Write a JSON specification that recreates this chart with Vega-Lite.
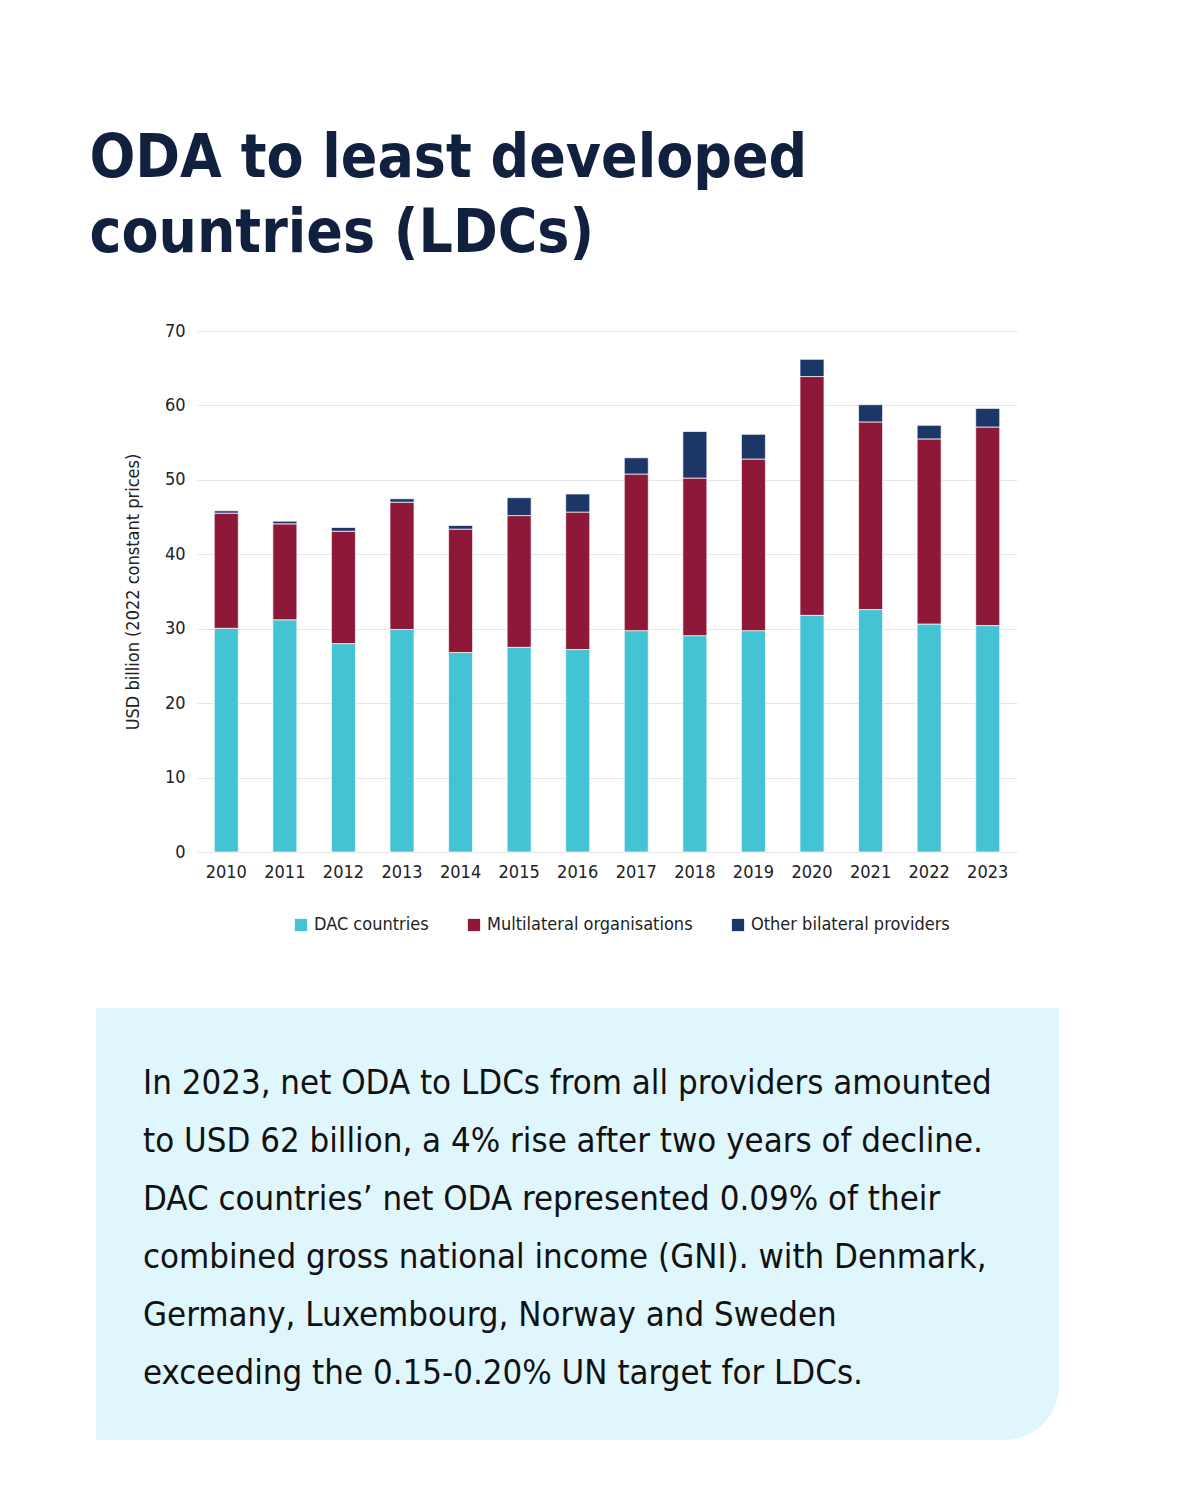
{
  "$schema": "https://vega.github.io/schema/vega-lite/v6.json",
  "background": "white",
  "padding": {"top": 129, "left": 89, "right": 10, "bottom": 10},
  "concat": [
    {
      "width": 820,
      "height": 521,
      "title": {
        "text": ["ODA to least developed", "countries (LDCs)"],
        "anchor": "start",
        "frame": "bounds",
        "dx": -35,
        "offset": 57,
        "fontSize": 60,
        "lineHeight": 75,
        "fontWeight": "bold",
        "font": "DejaVu Sans Condensed, Noto Sans",
        "color": "#12203f"
      },
      "data": {
        "values": [
          {"year": "2010", "provider": "DAC countries", "value": 30.05},
          {"year": "2010", "provider": "Multilateral organisations", "value": 15.48},
          {"year": "2010", "provider": "Other bilateral providers", "value": 0.31},
          {"year": "2011", "provider": "DAC countries", "value": 31.2},
          {"year": "2011", "provider": "Multilateral organisations", "value": 12.89},
          {"year": "2011", "provider": "Other bilateral providers", "value": 0.36},
          {"year": "2012", "provider": "DAC countries", "value": 28.0},
          {"year": "2012", "provider": "Multilateral organisations", "value": 15.1},
          {"year": "2012", "provider": "Other bilateral providers", "value": 0.5},
          {"year": "2013", "provider": "DAC countries", "value": 29.9},
          {"year": "2013", "provider": "Multilateral organisations", "value": 17.1},
          {"year": "2013", "provider": "Other bilateral providers", "value": 0.46},
          {"year": "2014", "provider": "DAC countries", "value": 26.8},
          {"year": "2014", "provider": "Multilateral organisations", "value": 16.58},
          {"year": "2014", "provider": "Other bilateral providers", "value": 0.49},
          {"year": "2015", "provider": "DAC countries", "value": 27.5},
          {"year": "2015", "provider": "Multilateral organisations", "value": 17.7},
          {"year": "2015", "provider": "Other bilateral providers", "value": 2.4},
          {"year": "2016", "provider": "DAC countries", "value": 27.2},
          {"year": "2016", "provider": "Multilateral organisations", "value": 18.47},
          {"year": "2016", "provider": "Other bilateral providers", "value": 2.43},
          {"year": "2017", "provider": "DAC countries", "value": 29.74},
          {"year": "2017", "provider": "Multilateral organisations", "value": 21.04},
          {"year": "2017", "provider": "Other bilateral providers", "value": 2.19},
          {"year": "2018", "provider": "DAC countries", "value": 29.07},
          {"year": "2018", "provider": "Multilateral organisations", "value": 21.17},
          {"year": "2018", "provider": "Other bilateral providers", "value": 6.26},
          {"year": "2019", "provider": "DAC countries", "value": 29.74},
          {"year": "2019", "provider": "Multilateral organisations", "value": 23.06},
          {"year": "2019", "provider": "Other bilateral providers", "value": 3.32},
          {"year": "2020", "provider": "DAC countries", "value": 31.8},
          {"year": "2020", "provider": "Multilateral organisations", "value": 32.08},
          {"year": "2020", "provider": "Other bilateral providers", "value": 2.32},
          {"year": "2021", "provider": "DAC countries", "value": 32.57},
          {"year": "2021", "provider": "Multilateral organisations", "value": 25.21},
          {"year": "2021", "provider": "Other bilateral providers", "value": 2.32},
          {"year": "2022", "provider": "DAC countries", "value": 30.63},
          {"year": "2022", "provider": "Multilateral organisations", "value": 24.87},
          {"year": "2022", "provider": "Other bilateral providers", "value": 1.83},
          {"year": "2023", "provider": "DAC countries", "value": 30.42},
          {"year": "2023", "provider": "Multilateral organisations", "value": 26.68},
          {"year": "2023", "provider": "Other bilateral providers", "value": 2.5}
        ]
      },
      "mark": {"type": "bar", "stroke": "white", "strokeWidth": 1, "strokeOpacity": 0.7},
      "encoding": {
        "x": {
          "field": "year",
          "type": "ordinal",
          "scale": {"paddingInner": 0.59, "paddingOuter": 0.295},
          "axis": {"title": null, "labelAngle": 0, "ticks": false, "domain": false, "labelPadding": 11}
        },
        "y": {
          "field": "value",
          "type": "quantitative",
          "stack": "zero",
          "scale": {"domain": [0, 70], "nice": false},
          "axis": {
            "title": "USD billion (2022 constant prices)",
            "values": [0, 10, 20, 30, 40, 50, 60, 70],
            "ticks": false,
            "domain": false,
            "labelPadding": 12,
            "titlePadding": 22
          }
        },
        "color": {
          "field": "provider",
          "type": "nominal",
          "scale": {
            "domain": ["DAC countries", "Multilateral organisations", "Other bilateral providers"],
            "range": ["#43c3d3", "#8e1838", "#1c3668"]
          },
          "legend": {
            "title": null,
            "orient": "none",
            "legendX": 95,
            "legendY": 585,
            "direction": "horizontal",
            "symbolType": "square",
            "symbolSize": 150,
            "symbolStrokeWidth": 0,
            "columnPadding": 36,
            "labelLimit": 400
          }
        },
        "order": {"field": "provider", "sort": "ascending"}
      }
    },
    {
      "width": 862,
      "height": 432,
      "layer": [
        {
          "data": {"values": [{"panel": "summary"}]},
          "mark": {"type": "rect", "color": "#dff7fc", "cornerRadiusBottomRight": 55},
          "encoding": {"x": {"value": -101}, "x2": {"value": "width"}}
        },
        {
          "data": {
            "values": [
              {"i": 1, "line": "In 2023, net ODA to LDCs from all providers amounted"},
              {"i": 2, "line": "to USD 62 billion, a 4% rise after two years of decline."},
              {"i": 3, "line": "DAC countries’ net ODA represented 0.09% of their"},
              {"i": 4, "line": "combined gross national income (GNI). with Denmark,"},
              {"i": 5, "line": "Germany, Luxembourg, Norway and Sweden"},
              {"i": 6, "line": "exceeding the 0.15-0.20% UN target for LDCs."}
            ]
          },
          "mark": {
            "type": "text",
            "align": "left",
            "baseline": "alphabetic",
            "fontSize": 34.5,
            "color": "#111111",
            "font": "DejaVu Sans Condensed, Noto Sans"
          },
          "encoding": {
            "x": {"value": -54},
            "y": {"field": "i", "type": "ordinal", "axis": null, "scale": {"type": "point", "padding": 0, "range": [86, 376]}},
            "text": {"field": "line"}
          }
        }
      ]
    }
  ],
  "columns": 1,
  "spacing": 74,
  "resolve": {"scale": {"color": "independent"}, "legend": {"color": "independent"}},
  "config": {
    "font": "DejaVu Sans Condensed, Noto Sans",
    "view": {"stroke": null},
    "axis": {
      "labelFontSize": 18,
      "labelColor": "#222222",
      "titleFontSize": 18,
      "titleFontWeight": "normal",
      "titleColor": "#222222",
      "gridColor": "#e6e6e6",
      "gridWidth": 1
    },
    "axisX": {"grid": false},
    "legend": {"labelFontSize": 18, "labelColor": "#222222"}
  }
}
